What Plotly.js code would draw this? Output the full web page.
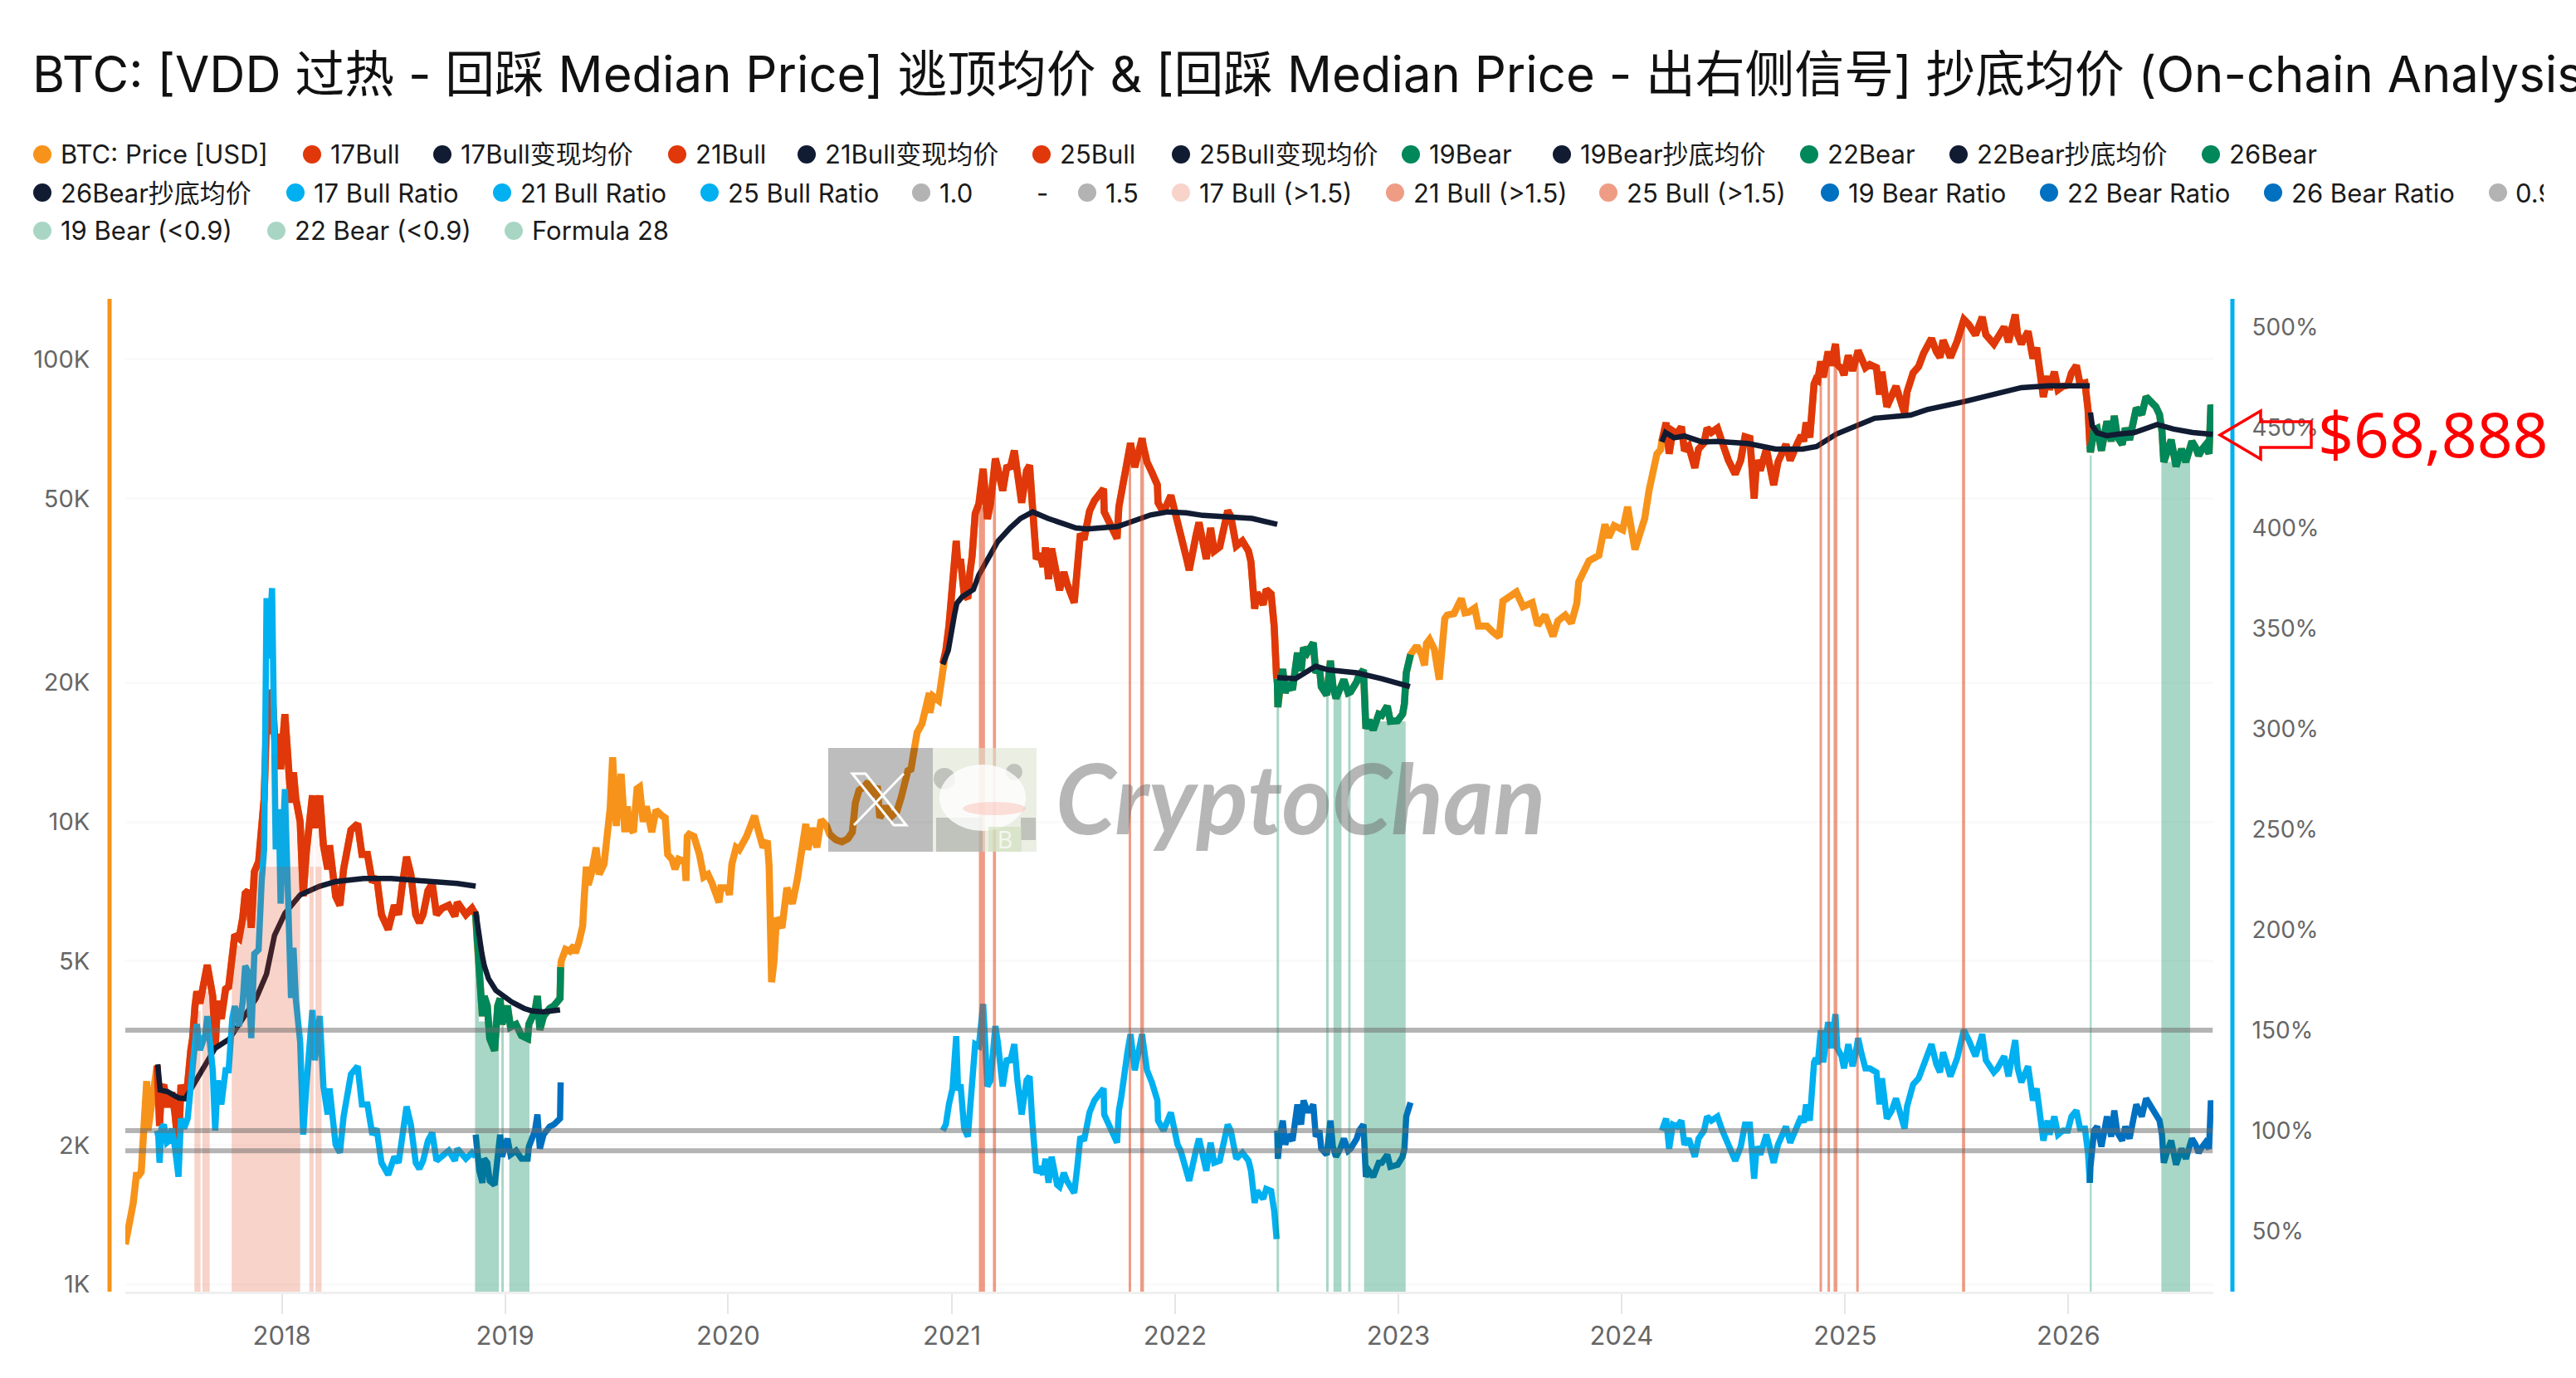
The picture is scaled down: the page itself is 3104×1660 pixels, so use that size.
<!DOCTYPE html>
<html>
<head>
<meta charset="utf-8">
<script src="https://cdn.plot.ly/plotly-3.0.1.min.js"></script>
<style>html,body{margin:0;padding:0;background:#fff}</style>
</head>
<body>
<div id="chart" style="width:3104px;height:1660px"></div>
<script>
// price, ratio in percent, one array per cycle
var preDates = ['2017-04-20','2017-04-27','2017-05-03','2017-05-08','2017-05-12','2017-05-16','2017-05-20','2017-05-25','2017-05-27','2017-05-31','2017-06-04','2017-06-08','2017-06-11'];
var prePrice = [1220,1340,1500,1720,1720,1750,2050,2750,2150,2350,2520,2780,2970];

var bull17Dates = ['2017-06-11','2017-06-13','2017-06-15','2017-06-18','2017-06-22','2017-06-27','2017-07-01','2017-07-05','2017-07-10','2017-07-16','2017-07-20','2017-07-25','2017-07-31','2017-08-05','2017-08-08','2017-08-12','2017-08-15','2017-08-20','2017-08-24','2017-08-29','2017-09-01','2017-09-06','2017-09-10','2017-09-14','2017-09-18','2017-09-24','2017-10-01','2017-10-06','2017-10-12','2017-10-16','2017-10-23','2017-10-29','2017-11-02','2017-11-07','2017-11-12','2017-11-17','2017-11-24','2017-11-29','2017-12-03','2017-12-07','2017-12-10','2017-12-16','2017-12-22','2017-12-27','2017-12-30','2018-01-06','2018-01-11','2018-01-16','2018-01-20','2018-01-24','2018-01-31','2018-02-05','2018-02-10','2018-02-20','2018-02-24','2018-03-04','2018-03-10','2018-03-17','2018-03-20','2018-03-30','2018-04-06','2018-04-12','2018-04-24','2018-05-05','2018-05-12','2018-05-21','2018-05-29','2018-06-05','2018-06-13','2018-06-24','2018-07-04','2018-07-11','2018-07-17','2018-07-24','2018-07-31','2018-08-08','2018-08-14','2018-08-20','2018-08-28','2018-09-04','2018-09-11','2018-09-20','2018-10-01','2018-10-11','2018-10-15','2018-10-29','2018-11-08','2018-11-14'];
var bull17Price = [2970,2660,2200,2650,2700,2450,2450,2600,2350,1950,2700,2550,2720,3200,3400,4000,4300,4050,4300,4500,4900,4500,4200,3250,4100,3750,4350,4400,5400,5700,5600,6200,7000,7100,5900,7800,8200,10000,11200,16500,15500,19300,13900,15500,13000,17100,13500,11000,12800,11200,10000,6900,8600,11400,9700,11400,8900,7900,8900,6900,6600,7900,9600,9900,8500,8500,7400,7600,6300,5850,6600,6300,7300,8400,7700,6300,6050,6300,7100,7350,6300,6500,6600,6250,6700,6300,6500,6300];
var bull17Ratio = [100,97,84,101,103,94,95,101,92,77,106,101,106,122,127,146,153,140,145,148,157,141,130,100,125,113,130,130,156,162,152,164,182,179,146,188,190,224,240,365,335,370,240,260,213,270,207,166,191,165,144,98,122,160,135,157,122,108,121,93,89,107,128,132,113,113,98,101,84,78,87,84,97,112,103,84,81,85,95,99,85,87,90,85,91,86,89,87];
var bull17AvgDates = ['2017-06-12','2017-06-16','2017-06-28','2017-07-16','2017-07-27','2017-08-12','2017-08-31','2017-09-14','2017-10-07','2017-11-03','2017-11-20','2017-12-07','2017-12-20','2018-01-06','2018-01-20','2018-01-31','2018-03-03','2018-03-30','2018-05-15','2018-06-29','2018-08-04','2018-09-08','2018-10-15','2018-11-14'];
var bull17Avg = [2990,2630,2610,2530,2520,2740,3050,3240,3390,3860,4150,4690,5680,6340,6690,6950,7250,7430,7540,7540,7480,7430,7360,7260];

var bear19Dates = ['2018-11-14','2018-11-16','2018-11-19','2018-11-20','2018-11-25','2018-11-28','2018-12-03','2018-12-07','2018-12-15','2018-12-20','2018-12-24','2018-12-27','2018-12-30','2019-01-05','2019-01-10','2019-01-19','2019-01-28','2019-02-07','2019-02-09','2019-02-19','2019-02-23','2019-02-27','2019-03-05','2019-03-15','2019-03-22','2019-03-30','2019-04-01','2019-04-02'];
var bear19Price = [6300,5600,5000,4500,3800,4200,4000,3400,3200,4000,4150,3650,3800,4000,3600,3650,3450,3400,3650,3900,4200,3550,3800,3950,4000,4100,4150,4850];
var bear19Ratio = [98,93,87,80,74,86,84,75,73,91,98,87,90,96,88,90,86,86,92,100,108,91,98,102,103,105,106,124];
var bear19AvgDates = ['2018-11-14','2018-11-17','2018-11-20','2018-11-24','2018-11-28','2018-12-05','2018-12-17','2019-01-01','2019-01-13','2019-02-01','2019-02-14','2019-03-05','2019-04-01'];
var bear19Avg = [6400,5950,5600,5200,4890,4580,4320,4180,4070,3950,3900,3880,3920];

var midDates = ['2019-04-02','2019-04-03','2019-04-10','2019-04-17','2019-04-24','2019-04-26','2019-05-02','2019-05-08','2019-05-11','2019-05-14','2019-05-17','2019-05-22','2019-05-30','2019-06-04','2019-06-12','2019-06-16','2019-06-22','2019-06-26','2019-07-02','2019-07-05','2019-07-10','2019-07-16','2019-07-20','2019-07-24','2019-07-30','2019-08-05','2019-08-09','2019-08-15','2019-08-20','2019-08-29','2019-09-05','2019-09-15','2019-09-20','2019-09-24','2019-10-01','2019-10-06','2019-10-12','2019-10-22','2019-10-24','2019-10-26','2019-10-29','2019-11-06','2019-11-15','2019-11-22','2019-11-29','2019-12-05','2019-12-17','2019-12-20','2019-12-31','2020-01-03','2020-01-07','2020-01-14','2020-01-19','2020-01-31','2020-02-09','2020-02-13','2020-02-19','2020-02-27','2020-03-05','2020-03-08','2020-03-12','2020-03-16','2020-03-20','2020-03-29','2020-04-06','2020-04-15','2020-04-23','2020-04-29','2020-05-07','2020-05-10','2020-05-18','2020-05-25','2020-06-01','2020-06-10','2020-06-15','2020-06-25','2020-07-05','2020-07-15','2020-07-22','2020-07-27','2020-08-02','2020-08-10','2020-08-17','2020-08-25','2020-09-01','2020-09-05','2020-09-15','2020-09-23','2020-10-03','2020-10-10','2020-10-21','2020-10-26','2020-11-05','2020-11-13','2020-11-25','2020-11-26','2020-12-01','2020-12-10','2020-12-17'];
var midPrice = [4850,5000,5300,5250,5400,5200,5500,5950,7000,8000,7300,7700,8800,7700,8100,8900,10700,13800,9800,11200,12700,9500,10800,9700,9500,11800,11900,10000,10800,9500,10600,10300,10200,8500,8300,7900,8300,8200,7450,9300,9400,9300,8500,7600,7700,7400,6700,7200,7200,6950,8100,8800,8700,9300,10150,10300,9600,8800,9100,8000,4500,5000,6200,5900,7200,6650,7500,8700,9900,8700,9700,8800,10100,9800,9400,9150,9050,9200,9500,11000,11700,11900,12200,11350,11950,10200,10800,10250,10550,11300,12900,13000,15600,16300,19000,17200,18700,18300,22000];

var bull21Dates = ['2020-12-17','2020-12-22','2020-12-27','2021-01-02','2021-01-08','2021-01-11','2021-01-15','2021-01-21','2021-01-27','2021-01-30','2021-02-03','2021-02-08','2021-02-14','2021-02-21','2021-02-28','2021-03-05','2021-03-13','2021-03-17','2021-03-25','2021-04-01','2021-04-06','2021-04-13','2021-04-18','2021-04-25','2021-05-03','2021-05-08','2021-05-12','2021-05-19','2021-05-25','2021-05-30','2021-06-03','2021-06-08','2021-06-13','2021-06-22','2021-06-26','2021-07-03','2021-07-08','2021-07-20','2021-07-25','2021-07-30','2021-08-05','2021-08-14','2021-08-22','2021-09-06','2021-09-07','2021-09-20','2021-09-28','2021-10-01','2021-10-05','2021-10-15','2021-10-20','2021-10-27','2021-11-08','2021-11-10','2021-11-16','2021-11-24','2021-12-03','2021-12-04','2021-12-13','2021-12-25','2022-01-05','2022-01-10','2022-01-21','2022-01-24','2022-02-04','2022-02-09','2022-02-21','2022-02-28','2022-03-06','2022-03-15','2022-03-28','2022-04-02','2022-04-11','2022-04-21','2022-05-01','2022-05-05','2022-05-11','2022-05-15','2022-05-25','2022-05-30','2022-06-07','2022-06-12','2022-06-16'];
var bull21Price = [22000,23500,26500,32000,40500,35500,37000,31000,30400,34300,37600,46400,48700,58000,45200,48800,61000,58000,52000,59000,58000,63500,56000,49000,57500,59000,49500,37000,38000,35600,39200,33500,39000,32500,31700,34700,32800,29800,35400,42000,40800,47000,49500,52500,46800,43000,41000,48000,51500,61500,65900,58500,67500,64900,60000,57000,53500,49000,46700,50800,43500,41800,36500,35000,41500,44400,37000,43200,38500,39300,47100,45800,39500,40500,38500,36500,28900,31300,29500,31800,31100,26500,20400];
var bull21Ratio = [100,103,113,121,147,120,123,101,97,110,119,143,142,163,122,125,152,144,122,136,134,143,125,108,125,127,106,79,82,78,86,74,87,73,72,79,75,69,82,97,95,109,115,121,108,99,94,110,117,139,148,130,148,143,130,124,115,105,100,109,93,90,78,75,90,96,80,94,84,85,103,100,86,89,85,80,64,70,66,71,70,60,46];
var bull21AvgDates = ['2020-12-17','2020-12-26','2021-01-05','2021-01-09','2021-01-18','2021-02-05','2021-02-14','2021-02-28','2021-03-17','2021-04-06','2021-04-23','2021-05-13','2021-06-07','2021-07-23','2021-08-10','2021-09-29','2021-10-20','2021-11-22','2021-12-20','2022-01-19','2022-02-15','2022-04-10','2022-05-07','2022-06-17'];
var bull21Avg = [21900,23500,28000,29700,30700,31800,34200,37000,40400,43200,45300,46800,45300,43200,43000,43500,44400,46100,46800,46600,46000,45700,45300,44000];

var bear22Dates = ['2022-06-17','2022-06-18','2022-06-22','2022-06-26','2022-06-30','2022-07-05','2022-07-12','2022-07-14','2022-07-20','2022-07-26','2022-07-30','2022-08-05','2022-08-10','2022-08-15','2022-08-19','2022-08-25','2022-08-28','2022-09-06','2022-09-12','2022-09-16','2022-09-21','2022-09-28','2022-10-04','2022-10-11','2022-10-15','2022-10-25','2022-10-29','2022-11-05','2022-11-09','2022-11-14','2022-11-21','2022-11-30','2022-12-05','2022-12-14','2022-12-19','2022-12-31','2023-01-08','2023-01-11','2023-01-14','2023-01-21'];
var bear22Price = [20400,17700,20000,21400,19000,20000,19300,20200,23200,21200,23800,23200,23900,24400,21000,21600,19600,18800,22300,19700,18500,19400,20300,19000,19100,20100,20800,21300,15900,16600,15800,17100,17000,17800,16500,16550,17100,18000,21000,23000];
var bear22Ratio = [100,86,98,105,93,98,95,99,113,103,115,110,110,113,97,100,91,88,105,92,87,91,96,90,91,96,100,103,77,80,77,84,84,88,82,83,87,91,107,114];
var bear22AvgDates = ['2022-06-17','2022-07-05','2022-07-17','2022-08-19','2022-09-09','2022-10-25','2022-12-05','2023-01-20'];
var bear22Avg = [20500,20400,20400,21700,21300,21000,20400,19600];

var lateDates = ['2023-01-21','2023-01-29','2023-02-02','2023-02-08','2023-02-13','2023-02-16','2023-02-21','2023-03-01','2023-03-09','2023-03-14','2023-03-18','2023-03-22','2023-04-02','2023-04-14','2023-04-20','2023-04-26','2023-05-06','2023-05-12','2023-05-26','2023-06-05','2023-06-15','2023-06-21','2023-06-30','2023-07-13','2023-07-24','2023-08-08','2023-08-17','2023-08-29','2023-09-11','2023-09-19','2023-10-01','2023-10-11','2023-10-20','2023-10-23','2023-11-09','2023-11-25','2023-12-05','2023-12-11','2023-12-20','2024-01-03','2024-01-11','2024-01-23','2024-02-08','2024-02-15','2024-02-28','2024-03-05','2024-03-07'];
var latePrice = [23000,23800,23800,23000,21800,24300,24800,23600,20300,24800,27500,28000,28200,30400,28300,28400,29000,26500,26500,25700,25100,30000,30500,31400,29200,29800,26600,28000,25200,27200,28000,26900,29700,33000,36700,37700,44000,41200,43700,42800,48000,38800,45300,52000,62500,63800,66500];

var bull25Dates = ['2024-03-07','2024-03-14','2024-03-19','2024-03-25','2024-04-01','2024-04-08','2024-04-13','2024-04-20','2024-04-30','2024-05-06','2024-05-15','2024-05-20','2024-05-27','2024-06-06','2024-06-14','2024-06-24','2024-07-05','2024-07-14','2024-07-21','2024-07-29','2024-08-05','2024-08-09','2024-08-15','2024-08-25','2024-09-06','2024-09-13','2024-09-26','2024-10-03','2024-10-14','2024-10-21','2024-10-25','2024-10-29','2024-11-04','2024-11-06','2024-11-11','2024-11-14','2024-11-17','2024-11-22','2024-11-26','2024-12-04','2024-12-09','2024-12-16','2024-12-19','2024-12-26','2024-12-30','2025-01-06','2025-01-13','2025-01-20','2025-01-22','2025-01-27','2025-02-03','2025-02-10','2025-02-21','2025-02-26','2025-03-02','2025-03-10','2025-03-18','2025-03-25','2025-04-08','2025-04-12','2025-04-22','2025-05-01','2025-05-09','2025-05-22','2025-05-30','2025-06-05','2025-06-10','2025-06-22','2025-07-03','2025-07-14','2025-07-22','2025-08-02','2025-08-13','2025-08-19','2025-09-01','2025-09-07','2025-09-18','2025-09-25','2025-10-06','2025-10-10','2025-10-16','2025-10-27','2025-11-04','2025-11-10','2025-11-21','2025-11-28','2025-12-01','2025-12-09','2025-12-15','2025-12-23','2025-12-31','2026-01-06','2026-01-14','2026-01-20','2026-01-28','2026-02-02','2026-02-05'];
var bull25Price = [66500,73000,62500,70000,69000,71500,63500,64900,58300,64000,66000,71000,69500,71000,66000,60500,56500,60500,68000,67500,50000,60500,57500,64000,53500,60000,65500,60500,65500,68500,66500,73000,67800,75000,88500,90500,90000,99000,91500,104000,97000,108000,97500,95500,92500,102000,94500,102000,104500,101000,96000,97500,96000,84000,94000,79000,83000,87500,76500,85000,93500,96500,103000,111000,104000,101000,110000,101000,109500,122000,119000,113000,123500,113000,108000,111000,117500,109000,125000,113000,108000,115000,100500,106000,83000,92000,86000,94000,86000,87500,88000,93500,97000,88500,89000,78000,65000];
var bull25Ratio = [100,106,91,103,102,105,93,96,87,96,100,107,105,107,100,92,85,92,103,103,76,92,88,98,84,93,102,94,102,107,104,113,105,115,134,136,133,150,134,154,141,158,141,137,131,143,132,142,146,139,131,131,129,113,126,106,110,116,101,112,123,126,133,143,133,129,139,127,136,150,145,137,148,135,129,131,137,127,145,131,124,132,115,121,95,105,98,107,98,100,100,107,110,101,101,89,74];
var bull25AvgDates = ['2024-03-07','2024-03-13','2024-03-27','2024-04-13','2024-05-12','2024-06-06','2024-07-26','2024-09-09','2024-10-23','2024-11-15','2024-12-17','2025-01-18','2025-02-18','2025-04-18','2025-05-15','2025-07-14','2025-09-01','2025-10-16','2025-11-30','2026-02-05'];
var bull25Avg = [66300,69500,67700,68300,66300,66500,65800,64000,64000,64800,68900,71900,74600,75800,77900,81000,83900,86900,87700,87700];

var bear26Dates = ['2026-02-05','2026-02-06','2026-02-12','2026-02-17','2026-02-24','2026-03-05','2026-03-12','2026-03-17','2026-03-22','2026-03-30','2026-04-04','2026-04-11','2026-04-22','2026-05-01','2026-05-08','2026-05-16','2026-05-24','2026-05-30','2026-06-03','2026-06-06','2026-06-12','2026-06-18','2026-06-26','2026-07-05','2026-07-12','2026-07-22','2026-07-28','2026-08-02','2026-08-08','2026-08-13','2026-08-19','2026-08-22','2026-08-25'];
var bear26Price = [65000,63000,70500,71000,63500,73500,66500,75500,68000,65500,71000,67000,78500,76000,83000,81000,79000,76000,70000,60000,64000,67000,58700,64000,60000,66500,64500,62000,64000,65200,62500,79800,75000];
var bear26Ratio = [74,82,100,102,92,107,97,110,99,95,102,96,113,107,116,112,109,105,98,84,90,95,83,91,86,96,93,89,92,94,91,115,109];
var bear26AvgDates = ['2026-02-06','2026-02-09','2026-02-17','2026-03-05','2026-03-23','2026-04-19','2026-05-26','2026-06-22','2026-07-23','2026-08-25'];
var bear26Avg = [76800,71900,69400,68400,68900,69500,72300,70700,69500,68888];

// horizontal ratio levels
var levelDates = ['2017-04-20','2026-08-25'];
var levels = [100,150,90];

// signal windows, top is the price level the band reaches
var b17Start = ['2017-08-11','2017-08-24','2017-10-11','2017-10-25','2017-11-08','2017-11-17','2017-11-29','2018-02-15','2018-02-25'];
var b17End = ['2017-08-21','2017-09-05','2017-10-25','2017-11-08','2017-11-17','2017-11-29','2018-01-31','2018-02-22','2018-03-07'];
var b17Top = [3900,4300,5400,6300,6000,7800,8000,8000,8000];
var b17PaleStart = ['2017-11-29','2017-12-07','2018-01-16','2018-02-15','2018-02-25'];
var b17PaleEnd = ['2017-12-07','2018-01-16','2018-01-31','2018-02-22','2018-03-07'];
var b17PaleTop = [11000,14000,10500,10000,11000];
var b21Start = ['2021-02-14','2021-03-09','2021-10-17','2021-11-05'];
var b21End = ['2021-02-24','2021-03-14','2021-10-21','2021-11-11'];
var b21Top = [48000,55000,61000,62000];
var b25Start = ['2024-11-20','2024-12-03','2024-12-13','2025-01-19','2025-07-11'];
var b25End = ['2024-11-24','2024-12-07','2024-12-19','2025-01-23','2025-07-16'];
var b25Top = [90000,97000,97000,100000,118000];
var b19Start = ['2018-11-13','2018-11-19','2018-12-26','2019-01-08'];
var b19End = ['2018-11-19','2018-12-22','2018-12-30','2019-02-10'];
var b19Top = [5200,3700,3700,3500];
var b22Start = ['2022-06-16','2022-09-05','2022-09-17','2022-10-11','2022-11-06'];
var b22End = ['2022-06-20','2022-09-09','2022-09-30','2022-10-15','2023-01-13'];
var b22Top = [19000,18800,19000,19000,16500];
var b26Start = ['2026-02-05','2026-06-02'];
var b26End = ['2026-02-08','2026-07-19'];
var b26Top = [62000,60000];

var priceTicks = [1000,2000,5000,10000,20000,50000,100000];
var priceTickText = ['1K','2K','5K','10K','20K','50K','100K'];
var priceGridVals = [1000,2000,5000,50000,100000];
var ratioTicks = [50,100,150,200,250,300,350,400,450,500];
var ratioTickText = ['50%','100%','150%','200%','250%','300%','350%','400%','450%','500%'];

var legendRow1 = ['BTC: Price [USD]','17Bull','17Bull变现均价','21Bull','21Bull变现均价','25Bull','25Bull变现均价','19Bear','19Bear抄底均价','22Bear','22Bear抄底均价','26Bear'];
var legendRow2 = ['26Bear抄底均价','17 Bull Ratio','21 Bull Ratio','25 Bull Ratio','1.0','1.5','17 Bull (>1.5)','21 Bull (>1.5)','25 Bull (>1.5)','19 Bear Ratio','22 Bear Ratio','26 Bear Ratio','0.9'];
var legendRow3 = ['19 Bear (<0.9)','22 Bear (<0.9)','Formula 28'];

var ORANGE = '#F7931A', RED = '#E0380A', GREEN = '#00875A', NAVY = '#111C33', CYAN = '#00B0F0', BLUE = '#0070C0', GRAY = '#B3B3B3';
var PINK = '#F7D3CA', SALMON = '#EF9C85', MINT = '#A9D6C4';
var row1Colors = [ORANGE,RED,NAVY,RED,NAVY,RED,NAVY,GREEN,NAVY,GREEN,NAVY,GREEN];
var row2Colors = [NAVY,CYAN,CYAN,CYAN,GRAY,GRAY,PINK,SALMON,SALMON,BLUE,BLUE,BLUE,GRAY];
var row3Colors = [MINT,MINT,MINT];
var row1X = [51,376,533,816,972,1255,1423,1700,1882,2180,2360,2664];
var row2X = [51,356,605,855,1110,1310,1423,1681,1938,2205,2469,2739,3010];
var row3X = [51,333,619];

// plot box in page pixels
var L = 151, R = 2667, T = 360, B = 1556;
function px(x) { return (x - L) / (R - L); }
function py(y) { return (B - y) / (B - T); }

function line(name, x, y, color, width, axis) {
    return { x: x, y: y, name: name, type: 'scatter', mode: 'lines', yaxis: axis, showlegend: false,
        line: { color: color, width: width, shape: 'linear' }, hoverinfo: 'skip' };
}

function band(name, starts, ends, tops, base, color) {
    var xs = [], ys = [];
    for (var i = 0; i < starts.length; i++) {
        xs.push(starts[i], starts[i], ends[i], ends[i], starts[i], null);
        ys.push(base, tops[i], tops[i], base, base, null);
    }
    return { x: xs, y: ys, name: name, type: 'scatter', mode: 'none', fill: 'toself', fillcolor: color,
        yaxis: 'y3', showlegend: false, hoverinfo: 'skip' };
}

var btcDates = preDates.concat(bull17Dates, bear19Dates, midDates, bull21Dates, bear22Dates, lateDates, bull25Dates, bear26Dates);
var btcPrice = prePrice.concat(bull17Price, bear19Price, midPrice, bull21Price, bear22Price, latePrice, bull25Price, bear26Price);

var PRICE_W = 8.5, RATIO_W = 7.5, AVG_W = 6.5;

// stacking: price and averages (y), ratios (y2), bands (y3), levels (y4)
var traces = [
    line('BTC: Price [USD]', btcDates, btcPrice, ORANGE, PRICE_W, 'y'),
    line('17Bull', bull17Dates, bull17Price, RED, PRICE_W, 'y'),
    line('19Bear', bear19Dates, bear19Price, GREEN, PRICE_W, 'y'),
    line('21Bull', bull21Dates, bull21Price, RED, PRICE_W, 'y'),
    line('22Bear', bear22Dates, bear22Price, GREEN, PRICE_W, 'y'),
    line('25Bull', bull25Dates, bull25Price, RED, PRICE_W, 'y'),
    line('26Bear', bear26Dates, bear26Price, GREEN, PRICE_W, 'y'),
    line('17Bull变现均价', bull17AvgDates, bull17Avg, NAVY, AVG_W, 'y'),
    line('19Bear抄底均价', bear19AvgDates, bear19Avg, NAVY, AVG_W, 'y'),
    line('21Bull变现均价', bull21AvgDates, bull21Avg, NAVY, AVG_W, 'y'),
    line('22Bear抄底均价', bear22AvgDates, bear22Avg, NAVY, AVG_W, 'y'),
    line('25Bull变现均价', bull25AvgDates, bull25Avg, NAVY, AVG_W, 'y'),
    line('26Bear抄底均价', bear26AvgDates, bear26Avg, NAVY, AVG_W, 'y'),

    line('17 Bull Ratio', bull17Dates, bull17Ratio, CYAN, RATIO_W, 'y2'),
    line('21 Bull Ratio', bull21Dates, bull21Ratio, CYAN, RATIO_W, 'y2'),
    line('25 Bull Ratio', bull25Dates, bull25Ratio, CYAN, RATIO_W, 'y2'),
    line('19 Bear Ratio', bear19Dates, bear19Ratio, BLUE, RATIO_W, 'y2'),
    line('22 Bear Ratio', bear22Dates, bear22Ratio, BLUE, RATIO_W, 'y2'),
    line('26 Bear Ratio', bear26Dates, bear26Ratio, BLUE, RATIO_W, 'y2'),

    band('17 Bull (>1.5)', b17Start, b17End, b17Top, 900, 'rgba(224,56,10,0.22)'),
    band('17 Bull (>1.5)', b17PaleStart, b17PaleEnd, b17PaleTop, 8000, 'rgba(224,56,10,0.05)'),
    band('21 Bull (>1.5)', b21Start, b21End, b21Top, 900, 'rgba(224,56,10,0.5)'),
    band('25 Bull (>1.5)', b25Start, b25End, b25Top, 900, 'rgba(224,56,10,0.5)'),
    band('19 Bear (<0.9)', b19Start, b19End, b19Top, 900, 'rgba(0,135,90,0.34)'),
    band('22 Bear (<0.9)', b22Start, b22End, b22Top, 900, 'rgba(0,135,90,0.34)'),
    band('Formula 28', b26Start, b26End, b26Top, 900, 'rgba(0,135,90,0.34)'),

    line('1.0', levelDates, [levels[0], levels[0]], 'rgba(105,105,105,0.5)', 6, 'y4'),
    line('1.5', levelDates, [levels[1], levels[1]], 'rgba(105,105,105,0.5)', 6, 'y4'),
    line('0.9', levelDates, [levels[2], levels[2]], 'rgba(105,105,105,0.5)', 6, 'y4')
];

var FONT = 'Inter, "Noto Sans CJK SC", sans-serif';
var annotations = [], shapes = [];

function legendRow(names, colors, xs, y) {
    for (var i = 0; i < names.length; i++) {
        shapes.push({ type: 'circle', xref: 'paper', yref: 'paper', layer: 'above', line: { width: 0 }, fillcolor: colors[i],
            x0: px(xs[i] - 11), x1: px(xs[i] + 11), y0: py(y + 11), y1: py(y - 11) });
        var ann = { text: names[i], xref: 'paper', yref: 'paper', x: px(xs[i] + 20), y: py(y), xanchor: 'left', yanchor: 'middle',
            showarrow: false, font: { family: FONT, size: 31, color: '#1a1a1a' } };
        if (names[i] === '0.9') { ann.width = 34; ann.align = 'left'; ann.borderpad = 0; }
        annotations.push(ann);
    }
}
legendRow(legendRow1, row1Colors, row1X, 186);
legendRow(legendRow2, row2Colors, row2X, 232);
legendRow(legendRow3, row3Colors, row3X, 278);
annotations.push({ text: '-', xref: 'paper', yref: 'paper', x: px(1247), y: py(232), xanchor: 'left', yanchor: 'middle',
    showarrow: false, font: { family: FONT, size: 31, color: '#1a1a1a' } });

// the two coloured axis bars sit outside the plot box
shapes.push({ type: 'line', xref: 'paper', yref: 'paper', x0: px(132), x1: px(132), y0: 0, y1: 1, line: { color: ORANGE, width: 5 } });
shapes.push({ type: 'line', xref: 'paper', yref: 'paper', x0: px(2690), x1: px(2690), y0: 0, y1: 1, line: { color: CYAN, width: 5 } });

// red callout arrow
function poly(points) {
    return points.map(function (p, i) { return (i ? 'L' : 'M') + px(p[0]) + ',' + py(p[1]); }).join(' ') + ' Z';
}
shapes.push({ type: 'path', xref: 'paper', yref: 'paper', layer: 'above', line: { color: '#FF0000', width: 3.5 },
    path: poly([[2675,524],[2724,495],[2724,508],[2785,508],[2785,539],[2724,539],[2724,553]]) });
annotations.push({ text: '$68,888', xref: 'paper', yref: 'paper', x: px(2791), y: py(522), xanchor: 'left', yanchor: 'middle',
    showarrow: false, font: { family: '"Noto Sans", sans-serif', size: 75, color: '#FF0000' } });

// watermark
function boxShape(kind, x0, y0, x1, y1, fill) {
    shapes.push({ type: kind, xref: 'paper', yref: 'paper', layer: 'above', line: { width: 0 }, fillcolor: fill,
        x0: px(x0), x1: px(x1), y0: py(y1), y1: py(y0) });
}
boxShape('rect', 998, 901, 1124, 1026, 'rgba(0,0,0,0.26)');
shapes.push({ type: 'path', xref: 'paper', yref: 'paper', layer: 'above', line: { color: '#FFFFFF', width: 3 },
    path: poly([[1027,932],[1043,932],[1092,994],[1077,994]]) });
shapes.push({ type: 'line', xref: 'paper', yref: 'paper', layer: 'above', line: { color: '#FFFFFF', width: 3 },
    x0: px(1089), y0: py(932), x1: px(1029), y1: py(994) });
boxShape('rect', 1124, 901, 1249, 1026, 'rgba(222,226,208,0.6)');
boxShape('rect', 1128, 985, 1184, 1026, 'rgba(150,150,150,0.5)');
boxShape('rect', 1230, 985, 1248, 1012, 'rgba(150,150,150,0.5)');
boxShape('circle', 1125, 925, 1151, 951, 'rgba(150,150,150,0.5)');
boxShape('circle', 1212, 920, 1232, 940, 'rgba(150,150,150,0.5)');
boxShape('circle', 1132, 921, 1236, 1001, 'rgba(255,255,255,0.8)');
boxShape('circle', 1160, 966, 1236, 982, 'rgba(255,120,100,0.22)');
boxShape('rect', 1191, 996, 1231, 1026, 'rgba(205,222,185,0.6)');
annotations.push({ text: 'B', xref: 'paper', yref: 'paper', x: px(1211), y: py(1012), xanchor: 'center', yanchor: 'middle',
    showarrow: false, font: { family: FONT, size: 28, color: '#F4F5EE' } });
annotations.push({ text: 'CryptoChan', xref: 'paper', yref: 'paper', x: px(1270), y: py(960), xanchor: 'left', yanchor: 'middle',
    showarrow: false, font: { family: 'Lato, sans-serif', size: 116, style: 'italic', weight: 'bold', color: 'rgba(110,110,110,0.5)' } });

var layout = {
    width: 3104,
    height: 1660,
    paper_bgcolor: '#fff',
    plot_bgcolor: '#fff',
    showlegend: false,
    font: { family: FONT, color: '#666' },
    margin: { l: L, r: 3104 - R, t: T, b: 1660 - B, pad: 0 },
    title: {
        text: 'BTC: [VDD 过热 - 回踩 Median Price] 逃顶均价 & [回踩 Median Price - 出右侧信号] 抄底均价 (On-chain Analysis)',
        x: 39 / 3104, xanchor: 'left', y: 1 - 90 / 1660, yanchor: 'middle',
        font: { family: FONT, size: 59.8, color: '#111' }
    },
    xaxis: {
        type: 'date', range: ['2017-04-20', '2026-08-26'], tick0: '2018-01-01', dtick: 'M12', tickformat: '%Y',
        showgrid: false, zeroline: false, showline: true, linecolor: '#EFEFEF', linewidth: 3,
        ticks: 'outside', ticklen: 24, tickwidth: 2, tickcolor: '#E6E6E6',
        tickfont: { family: FONT, size: 31, color: '#666' }
    },
    yaxis: {
        type: 'log', side: 'left', range: [2.984, 5.131], tickmode: 'array',
        tickvals: priceTicks, ticktext: priceTickText,
        showgrid: true, gridcolor: '#FAFAFA', gridwidth: 3, zeroline: false, showline: false,
        ticks: 'outside', ticklen: 36, tickcolor: 'rgba(0,0,0,0)',
        minor: { tickmode: 'array', tickvals: priceGridVals, showgrid: true, gridcolor: '#F0F0F0', gridwidth: 3, ticks: '' },
        tickfont: { family: FONT, size: 29, color: '#666' }
    },
    yaxis2: {
        overlaying: 'y', side: 'right', range: [19.83, 514], tickmode: 'array', tickvals: ratioTicks, ticktext: ratioTickText,
        showgrid: false, zeroline: false, showline: false,
        ticks: 'outside', ticklen: 40, tickcolor: 'rgba(0,0,0,0)',
        tickfont: { family: FONT, size: 28, color: '#666' }
    },
    yaxis3: { type: 'log', overlaying: 'y', range: [2.984, 5.131], visible: false },
    yaxis4: { overlaying: 'y', range: [19.83, 514], visible: false },
    shapes: shapes,
    annotations: annotations
};

Plotly.newPlot('chart', traces, layout, { displayModeBar: false });
</script>
</body>
</html>
